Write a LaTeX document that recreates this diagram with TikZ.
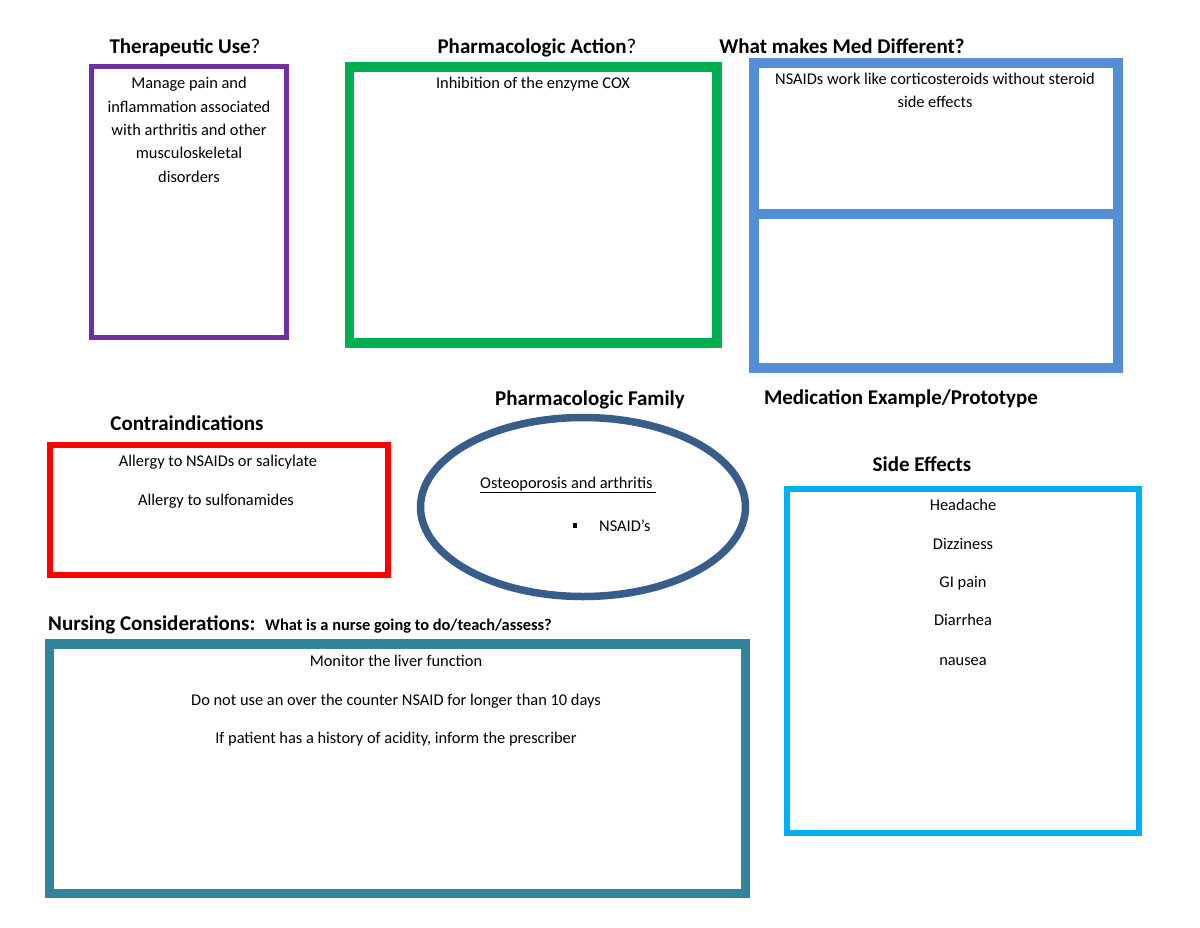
\documentclass[tikz,border=0pt]{standalone}
\usepackage{fontspec}
\setmainfont{Carlito}
\usetikzlibrary{shapes.geometric}
\definecolor{cpurple}{HTML}{7030A0}
\definecolor{cgreen}{HTML}{00B050}
\definecolor{cblue}{HTML}{558ED5}
\definecolor{cred}{HTML}{FF0000}
\definecolor{cnavy}{HTML}{385D8A}
\definecolor{csky}{HTML}{00B0F0}
\definecolor{cteal}{HTML}{31849B}
\tikzset{
  title/.style={anchor=base, inner sep=0pt, font=\fontsize{21}{25}\selectfont\bfseries},
  body/.style={anchor=base, inner sep=0pt, font=\fontsize{16.4}{20}\selectfont},
  frame/.style={line join=miter}
}
\begin{document}
\begin{tikzpicture}[x=1pt,y=-1pt]
\useasboundingbox (0,0) rectangle (1200,927);
\fill[white] (0,0) rectangle (1200,927);

% frames
\draw[frame, cpurple, line width=5pt] (91,66.5) rectangle (286.5,337.5);
\draw[frame, cgreen, line width=9.5pt] (349.5,67) rectangle (717,343);
\draw[frame, cblue, line width=10pt] (754,63) rectangle (1117.5,367.5);
\draw[cblue, line width=10pt] (754,214) -- (1117.5,214);
\draw[frame, cred, line width=6pt] (50,445) rectangle (388,575);
\draw[cnavy, line width=7.5pt] (583,507) ellipse [x radius=162.5, y radius=89.5];
\draw[frame, csky, line width=6pt] (787,489) rectangle (1138.5,833);
\draw[frame, cteal, line width=9.5pt] (49.5,644) rectangle (745.5,893.5);

% titles
\node[title] (t1) at (185,53) {Therapeutic Use\textmd{?}};
\node[title] (t2) at (537,53) {Pharmacologic Action\textmd{?}};
\node[title] (t3) at (842,53) {What makes Med Different?};
\node[title] (t4) at (590,405) {Pharmacologic Family};
\node[title] (t5) at (901,404) {Medication Example/Prototype};
\node[title] (t6) at (187,430.7) {Contraindications};
\node[title] (t7) at (922,471.7) {Side Effects};
\node[title, anchor=base west] (t8) at (48,630) {Nursing Considerations:};
\node[body, anchor=base west, font=\fontsize{16.4}{20}\selectfont\bfseries] (t9) at (265,630) {What is a nurse going to do/teach/assess?};

% therapeutic use
\node[body] (p1) at (189,88.3) {Manage pain and};
\node[body] (p2) at (189,112) {inflammation associated};
\node[body] (p3) at (189,135.5) {with arthritis and other};
\node[body] (p4) at (189,158.8) {musculoskeletal};
\node[body] (p5) at (189,182) {disorders};

% pharmacologic action
\node[body] (g1) at (533,88) {Inhibition of the enzyme COX};

% what makes different
\node[body] (b1) at (935,84) {NSAIDs work like corticosteroids without steroid};
\node[body] (b2) at (935,107) {side effects};

% contraindications
\node[body] (r1) at (218,466.7) {Allergy to NSAIDs or salicylate};
\node[body] (r2) at (216,505) {Allergy to sulfonamides};

% family
\node[body, anchor=base west] (f1) at (480,488.3) {\underline{Osteoporosis and arthritis\ }};
\node[fill=black, minimum size=4.5pt, inner sep=0pt] (bul) at (575,525.7) {};
\node[body, anchor=base west] (f2) at (599,531) {NSAID’s};

% side effects
\node[body] (s1) at (963,510) {Headache};
\node[body] (s2) at (963,549) {Dizziness};
\node[body] (s3) at (963,587) {GI pain};
\node[body] (s4) at (963,625.7) {Diarrhea};
\node[body] (s5) at (963,665) {nausea};

% nursing
\node[body] (n1) at (396,666) {Monitor the liver function};
\node[body] (n2) at (396,705) {Do not use an over the counter NSAID for longer than 10 days};
\node[body] (n3) at (396,743) {If patient has a history of acidity, inform the prescriber};
\end{tikzpicture}
\end{document}
